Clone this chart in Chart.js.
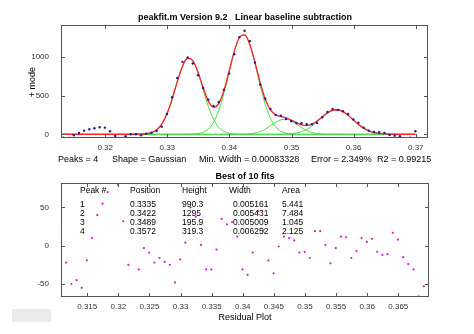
<!DOCTYPE html>
<html>
<head>
<meta charset="utf-8">
<script src="https://cdn.jsdelivr.net/npm/chart.js@4.4.0/dist/chart.umd.min.js"></script>
<style>
  body { margin: 0; background: #fff; width: 474px; height: 334px; position: relative; overflow: hidden;
         font-family: "Liberation Sans", Arial, sans-serif; color: #000; }
  canvas { position: absolute; left: 0; }
  .t { position: absolute; white-space: pre; font-size: 9px; line-height: 10px; height: 10px; }
  .c { transform: translateX(-50%); }
  .b { font-weight: bold; }
  .tab { font-size: 8.5px; }
</style>
</head>
<body>
<canvas id="fitChart" width="474" height="160" style="top:0"></canvas>
<canvas id="residChart" width="474" height="174" style="top:160px"></canvas>

<div class="t b c" style="left:245px;top:12px">peakfit.m Version 9.2   Linear baseline subtraction</div>
<div class="t" style="left:32px;top:82px;transform:translate(-50%,-50%) rotate(-90deg)">+ mode</div>
<div class="t" style="left:58px;top:154px">Peaks = 4</div>
<div class="t" style="left:112px;top:154px">Shape = Gaussian</div>
<div class="t" style="left:199px;top:154px">Min. Width = 0.00083328</div>
<div class="t" style="left:311px;top:154px">Error = 2.349%</div>
<div class="t" style="left:377px;top:154px">R2 = 0.99215</div>
<div class="t b c" style="left:245px;top:171px">Best of 10 fits</div>
<div id="table"></div>
<div class="t c" style="left:245px;top:312px">Residual Plot</div>
<div style="position:absolute;left:12px;top:309px;width:39px;height:13px;background:#ebebeb"></div>

<script>
// sample positions (0.00083328 spacing) and baseline-subtracted signal
const xs = [0.31078, 0.31161, 0.31245, 0.31328, 0.31411, 0.31495, 0.31578, 0.31661, 0.31745, 0.31828,
            0.31911, 0.31995, 0.32078, 0.32161, 0.32245, 0.32328, 0.32411, 0.32495, 0.32578, 0.32661,
            0.32745, 0.32828, 0.32911, 0.32995, 0.33078, 0.33161, 0.33245, 0.33328, 0.33411, 0.33495,
            0.33578, 0.33661, 0.33745, 0.33828, 0.33911, 0.33995, 0.34078, 0.34161, 0.34245, 0.34328,
            0.34411, 0.34495, 0.34578, 0.34661, 0.34745, 0.34828, 0.34911, 0.34995, 0.35078, 0.35161,
            0.35245, 0.35328, 0.35411, 0.35495, 0.35578, 0.35661, 0.35745, 0.35828, 0.35911, 0.35995,
            0.36078, 0.36161, 0.36245, 0.36328, 0.36411, 0.36495, 0.36578, 0.36661, 0.36745, 0.36828,
            0.36911, 0.36994];
const signal = [18, -22, -50, -44, -48, -13, 17, 47, 65, 78,
                91, 86, 39, -22, -65, -26, 0, 0, -13, 8,
                21, 43, 99, 264, 481, 731, 939, 995, 917, 766,
                600, 449, 368, 419, 579, 787, 1039, 1260, 1342, 1208,
                930, 644, 462, 329, 251, 242, 199, 169, 147, 143,
                130, 131, 147, 221, 290, 329, 316, 299, 264, 193,
                151, 86, 47, 30, 26, 17, -9, -18, -26, -60,
                -44, 39];
const residual = [18, -22, -50, -45, -55, -19, 10, 40, 55, 70,
                  82, 80, 32, -25, -67, -31, -3, -9, -22, -16,
                  -21, -25, -48, -18, 4, 50, 38, 1, -31, -31,
                  -5, 35, 28, 31, 12, -31, -38, -9, 45, 20,
                  -19, -36, -1, 12, 10, 7, -9, -8, -16, 19,
                  19, 1, -23, -3, 12, 11, -16, -7, 10, 5,
                  9, -8, -12, -11, 17, 8, -15, -24, -31, -66,
                  -53, 31];

// fitted peaks (Gaussian, width = FWHM)
const peakNum = [1, 2, 3, 4];
const peakPos = [0.3335, 0.3422, 0.3489, 0.3572];
const peakHeight = [990.3, 1295, 195.9, 319.3];
const peakWidth = [0.005161, 0.005431, 0.005009, 0.006252];
const peakArea = [5.441, 7.484, 1.045, 2.125];

const fitXTicks = [0.32, 0.33, 0.34, 0.35, 0.36, 0.37];
const fitYTicks = [0, 500, 1000];
const residXTicks = [0.315, 0.32, 0.325, 0.33, 0.335, 0.34, 0.345, 0.35, 0.355, 0.36, 0.365];
const residYTicks = [-50, 0, 50];

const gauss = (x, p, h, w) => h * Math.exp(-Math.pow((x - p) / (0.60056120439323 * w), 2));
const components = peakPos.map((p, n) => xs.map(x => ({ x, y: gauss(x, p, peakHeight[n], peakWidth[n]) })));
const model = xs.map((x, j) => ({ x, y: components.reduce((s, c) => s + c[j].y, 0) }));

// table of peak results over the residual plot
const cols = [
  ["Peak #", peakNum, 80],
  ["Position", peakPos, 130],
  ["Height", peakHeight, 182],
  ["Width", peakWidth, 229],
  ["Area", peakArea, 282],
];
const rowY = [199, 208, 217, 225.5];
let html = "";
cols.forEach(([head, vals, left]) => {
  html += `<div class="t tab" style="left:${left}px;top:185px">${head}</div>`;
  vals.forEach((v, r) => {
    const l = head === "Width" ? left + 4 : left;
    html += `<div class="t tab" style="left:${l}px;top:${rowY[r]}px">${v}</div>`;
  });
});
document.getElementById("table").innerHTML = html;

// MATLAB-style box with inward tick marks on all four sides
const boxTicks = {
  id: "boxTicks",
  afterDraw(chart) {
    const { ctx, chartArea: a, scales: { x, y } } = chart;
    ctx.save();
    ctx.strokeStyle = "#555";
    ctx.lineWidth = 1;
    ctx.strokeRect(a.left + 0.5, a.top + 0.5, a.right - a.left - 1, a.bottom - a.top - 1);
    ctx.beginPath();
    x.ticks.forEach((t) => {
      const px = Math.round(x.getPixelForValue(t.value)) + 0.5;
      ctx.moveTo(px, a.top); ctx.lineTo(px, a.top + 4);
      ctx.moveTo(px, a.bottom); ctx.lineTo(px, a.bottom - 4);
    });
    y.ticks.forEach((t) => {
      const py = Math.round(y.getPixelForValue(t.value)) + 0.5;
      ctx.moveTo(a.left, py); ctx.lineTo(a.left + 4, py);
      ctx.moveTo(a.right, py); ctx.lineTo(a.right - 4, py);
    });
    ctx.stroke();
    ctx.restore();
  },
};

const tickFont = { family: "'Liberation Sans', Arial, sans-serif", size: 8 };

function axes(xMin, xMax, xTicks, yMin, yMax, yTicks, xHeight) {
  return {
    x: {
      type: "linear", min: xMin, max: xMax,
      grid: { display: false }, border: { display: false },
      afterBuildTicks: (s) => { s.ticks = xTicks.map((v) => ({ value: v })); },
      afterFit: (s) => { s.height = xHeight; },
      ticks: { font: tickFont, color: "#333", padding: -3, maxRotation: 0, autoSkip: false,
               callback: (v) => String(v) },
    },
    y: {
      type: "linear", min: yMin, max: yMax,
      grid: { display: false }, border: { display: false },
      afterBuildTicks: (s) => { s.ticks = yTicks.map((v) => ({ value: v })); },
      afterFit: (s) => { s.width = 61; },
      ticks: { font: tickFont, color: "#333", padding: 4, callback: (v) => String(v) },
    },
  };
}

const common = {
  responsive: false,
  animation: false,
  events: [],
  plugins: { legend: { display: false }, tooltip: { enabled: false } },
};

new Chart(document.getElementById("fitChart"), {
  type: "scatter",
  data: {
    datasets: [
      {
        data: xs.map((x, j) => ({ x, y: signal[j] })),
        pointRadius: 1.2, pointBorderWidth: 0, pointBackgroundColor: "#1c1c9c", showLine: false,
      },
      {
        data: model, showLine: true, borderColor: "#ff2020", borderWidth: 1.3,
        pointRadius: 0, cubicInterpolationMode: "monotone",
      },
      ...components.map((c) => ({
        data: c, showLine: true, borderColor: "#3fe03f", borderWidth: 1,
        pointRadius: 0, cubicInterpolationMode: "monotone",
      })),
    ],
  },
  options: {
    ...common,
    layout: { padding: { top: 25, right: 46, left: 0, bottom: 0 } },
    scales: axes(0.31289, 0.37197, fitXTicks, -48, 1417, fitYTicks, 22),
  },
  plugins: [boxTicks],
});

new Chart(document.getElementById("residChart"), {
  type: "scatter",
  data: {
    datasets: [
      {
        data: xs.map((x, j) => ({ x, y: residual[j] })),
        pointRadius: 1.1, pointBorderWidth: 0, pointBackgroundColor: "#d21ed2", showLine: false,
      },
    ],
  },
  options: {
    ...common,
    layout: { padding: { top: 23, right: 45, left: 0, bottom: 0 } },
    scales: axes(xs[0], xs[xs.length - 1], residXTicks, -67, 82, residYTicks, 37),
  },
  plugins: [boxTicks],
});
</script>
</body>
</html>
